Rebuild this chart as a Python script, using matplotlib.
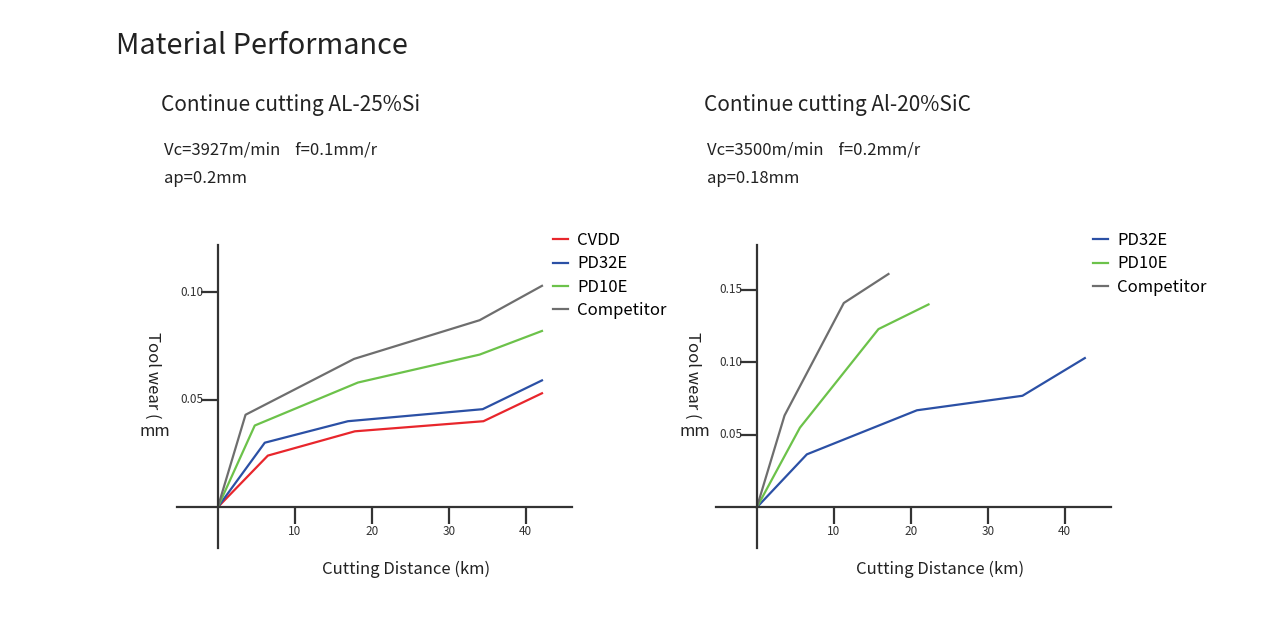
import matplotlib.pyplot as plt

plt.rcParams['font.family'] = ['Noto Sans CJK SC', 'DejaVu Sans']

# left chart: AL-25%Si
left_series = ['CVDD', 'PD32E', 'PD10E', 'Competitor']
cvdd_x = [0, 6.5, 17.8, 34.5, 42.1]
cvdd_y = [0, 0.024, 0.0353, 0.040, 0.053]
pd32e_x = [0, 6.1, 16.9, 34.4, 42.1]
pd32e_y = [0, 0.030, 0.040, 0.0456, 0.059]
pd10e_x = [0, 4.8, 18.2, 34.0, 42.1]
pd10e_y = [0, 0.038, 0.058, 0.071, 0.082]
comp_x = [0, 3.6, 17.7, 34.0, 42.1]
comp_y = [0, 0.043, 0.069, 0.087, 0.103]

# right chart: Al-20%SiC
r_pd32e_x = [0, 6.5, 20.8, 34.5, 42.6]
r_pd32e_y = [0, 0.0366, 0.067, 0.077, 0.103]
r_pd10e_x = [0, 5.6, 15.8, 22.3]
r_pd10e_y = [0, 0.055, 0.123, 0.140]
r_comp_x = [0, 3.6, 11.3, 17.1]
r_comp_y = [0, 0.0634, 0.141, 0.161]

x_ticks = [10, 20, 30, 40]
left_yticks = [0.05, 0.10]
right_yticks = [0.05, 0.10, 0.15]

colors = {'CVDD': '#e8262c', 'PD32E': '#2b50a5', 'PD10E': '#6cc24a', 'Competitor': '#6e6e6e'}
axis_col = '#333333'
W, H = 1276, 621

fig = plt.figure(figsize=(12.76, 6.21), dpi=100)


def make_axes(x0, x1, y0, y1, ylim, yticks):
    ax = fig.add_axes([x0 / W, 1 - y1 / H, (x1 - x0) / W, (y1 - y0) / H])
    ax.set_xlim(-5.3, 46)
    ax.set_ylim(*ylim)
    for s in ['top', 'right']:
        ax.spines[s].set_visible(False)
    for s in ['left', 'bottom']:
        ax.spines[s].set_position(('data', 0))
        ax.spines[s].set_color(axis_col)
        ax.spines[s].set_linewidth(1.6)
    ax.set_xticks(x_ticks)
    ax.set_xticklabels([str(t) for t in x_ticks])
    ax.set_yticks(yticks)
    ax.set_yticklabels(['%.2f' % t for t in yticks])
    ax.tick_params(axis='x', direction='out', length=12, width=1.6, color=axis_col,
                   labelsize=8.5, labelcolor=axis_col, pad=1)
    ax.tick_params(axis='y', direction='out', length=12, width=1.6, color=axis_col,
                   labelsize=8.5, labelcolor=axis_col, pad=-2)
    for lab in ax.get_yticklabels():
        lab.set_verticalalignment('center')
    ax.patch.set_alpha(0)
    return ax


def add_legend(ax, x_px):
    ax.legend(loc='upper left', bbox_to_anchor=(x_px / W, 1 - 232 / H), bbox_transform=fig.transFigure,
              frameon=False, fontsize=12, handlelength=0.9, handletextpad=0.55, labelspacing=0.38,
              borderaxespad=0, borderpad=0)


ax1 = make_axes(177, 572, 245, 548, (-0.019, 0.122), left_yticks)
ax1.plot(cvdd_x, cvdd_y, color=colors['CVDD'], lw=1.6, label='CVDD')
ax1.plot(pd32e_x, pd32e_y, color=colors['PD32E'], lw=1.6, label='PD32E')
ax1.plot(pd10e_x, pd10e_y, color=colors['PD10E'], lw=1.6, label='PD10E')
ax1.plot(comp_x, comp_y, color=colors['Competitor'], lw=1.6, label='Competitor')
add_legend(ax1, 553)

ax2 = make_axes(716, 1111, 245, 548, (-0.028, 0.181), right_yticks)
ax2.plot(r_pd32e_x, r_pd32e_y, color=colors['PD32E'], lw=1.6, label='PD32E')
ax2.plot(r_pd10e_x, r_pd10e_y, color=colors['PD10E'], lw=1.6, label='PD10E')
ax2.plot(r_comp_x, r_comp_y, color=colors['Competitor'], lw=1.6, label='Competitor')
add_legend(ax2, 1093)

txt = '#222222'
fig.text(116 / W, 1 - 46 / H, 'Material Performance', fontsize=20.8, color=txt, va='center')

for x0, title, line1, line2, xc in [
        (161, 'Continue cutting AL-25%Si', 'Vc=3927m/min    f=0.1mm/r', 'ap=0.2mm', 406),
        (704, 'Continue cutting Al-20%SiC', 'Vc=3500m/min    f=0.2mm/r', 'ap=0.18mm', 940)]:
    fig.text(x0 / W, 1 - 105 / H, title, fontsize=15, color=txt, va='center')
    fig.text((x0 + 3) / W, 1 - 150 / H, line1, fontsize=12, color=txt, va='center')
    fig.text((x0 + 3) / W, 1 - 179 / H, line2, fontsize=12, color=txt, va='center')
    fig.text(xc / W, 1 - 569 / H, 'Cutting Distance (km)', fontsize=12, color=txt,
             va='center', ha='center')

for xl in [153, 693]:
    fig.text(xl / W, 1 - 332 / H, 'Tool wear (', fontsize=12, color=txt, rotation=-90,
             va='top', ha='center')
    fig.text(xl / W + 2 / W, 1 - 431 / H, 'mm', fontsize=12, color=txt, va='center', ha='center')

fig.savefig('out.png', dpi=100)
